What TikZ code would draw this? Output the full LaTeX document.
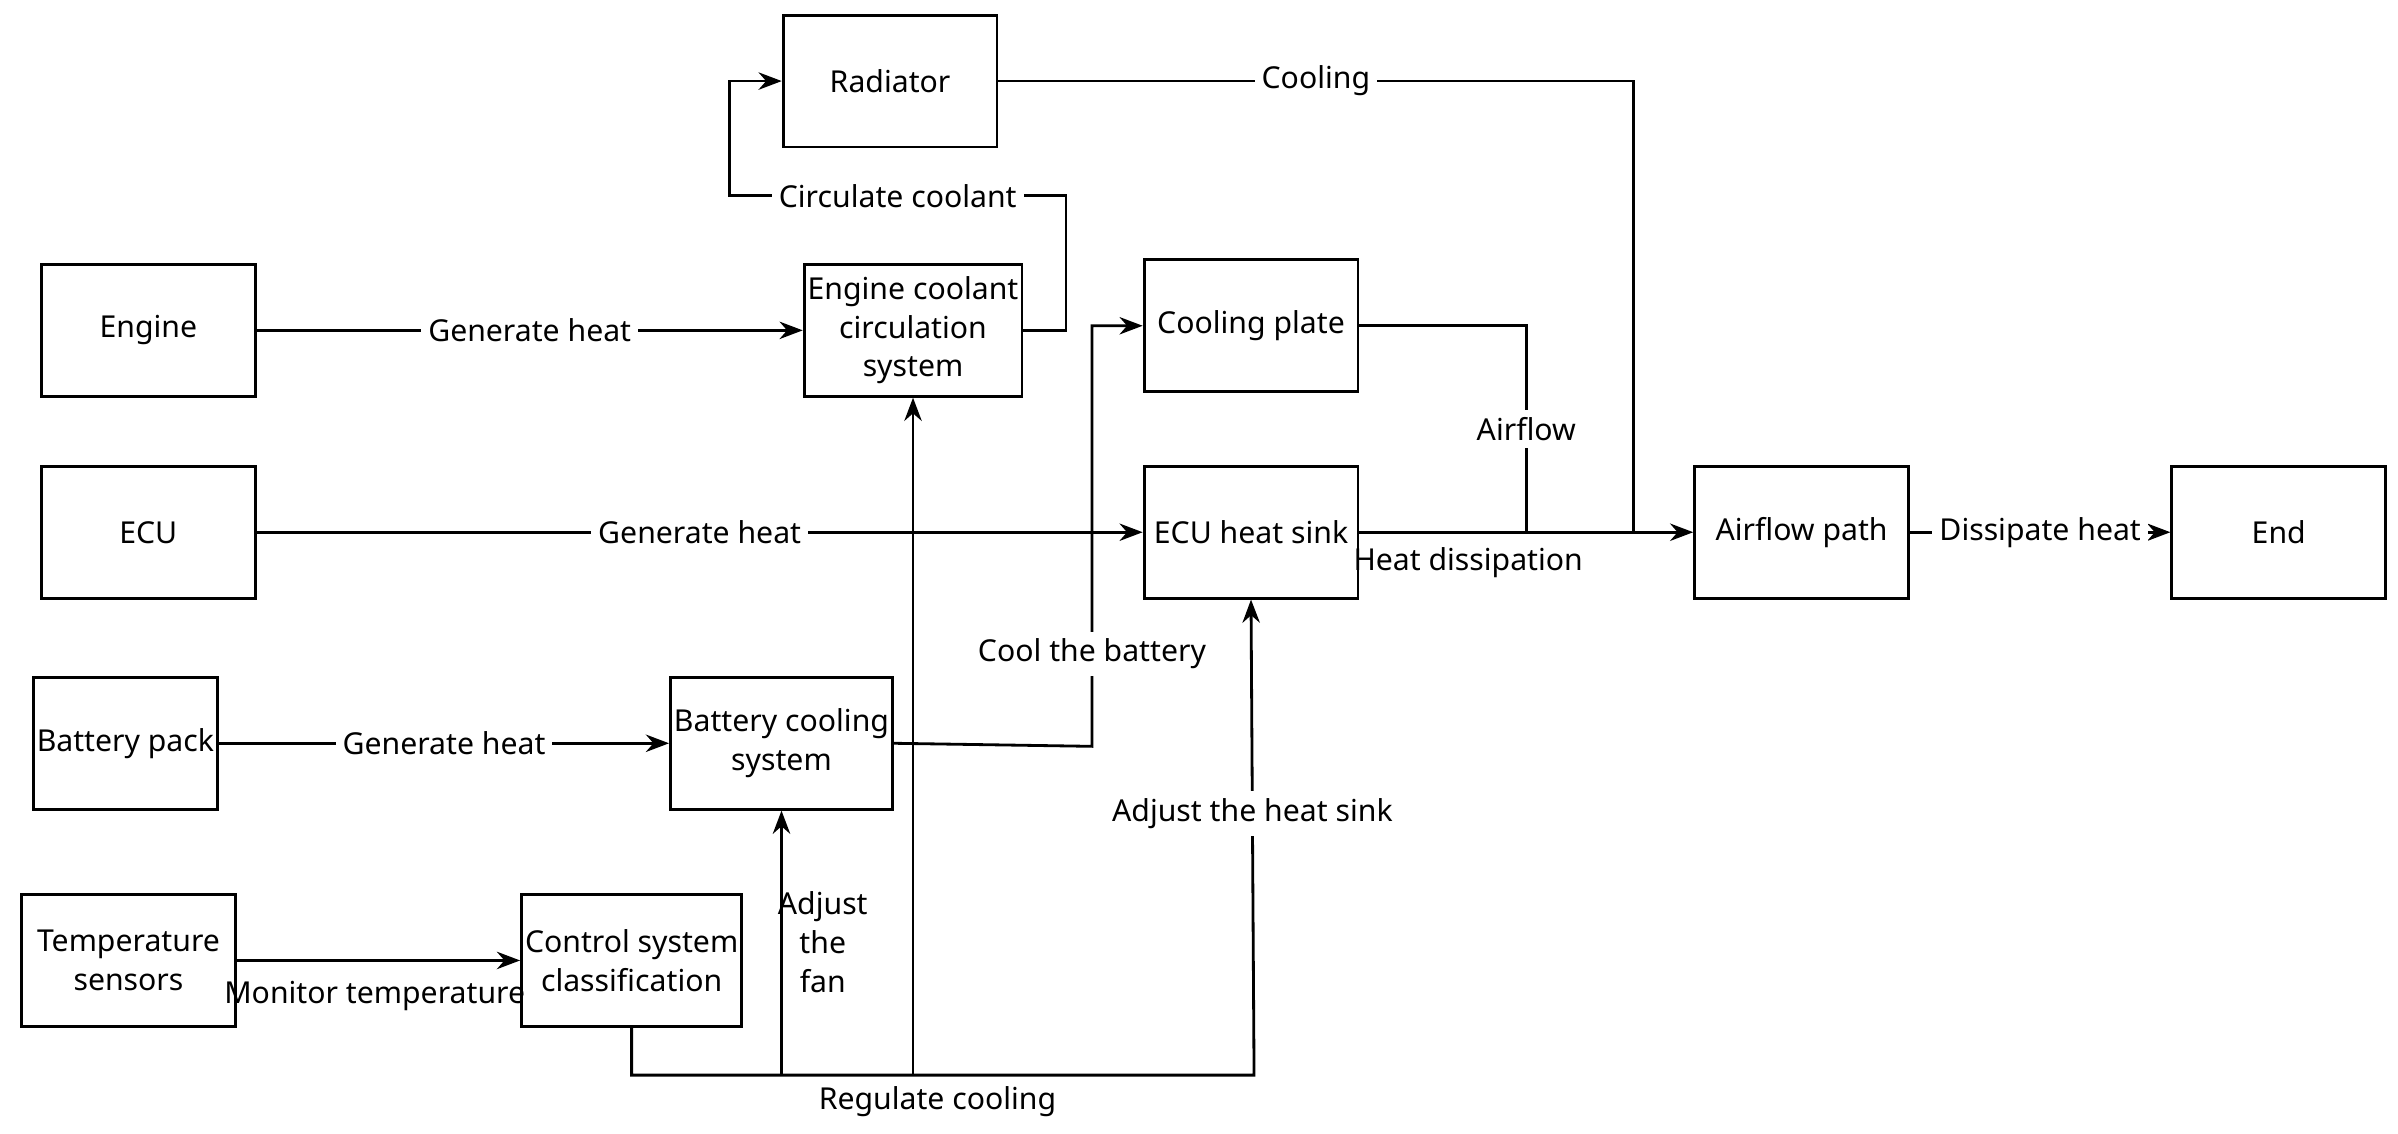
\documentclass[tikz,border=0pt]{standalone}
\usepackage{fontspec}
\setmainfont{Noto Sans}
\usetikzlibrary{arrows.meta, positioning}
\begin{document}
\begin{tikzpicture}[
        x=0.01531cm, y=-0.01531cm,
        font=\fontsize{8.6pt}{11pt}\selectfont,
        box/.style={draw, thick, rectangle, align=center, minimum width=2.14cm, minimum height=1.32cm, inner sep=1pt},
        post/.style={thick, -Stealth},
        line/.style={thick},
        lbl/.style={fill=white, inner sep=2pt, align=center},
    ]
        \useasboundingbox (0,0) rectangle (1568,741);
        \node[box] (radiator) at (582,53) {Radiator};
        \node[box] (engine) at (97,216) {Engine};
        \node[box] (coolant) at (597,216) {Engine coolant\\circulation\\system};
        \node[box] (plate) at (818,213) {Cooling plate};
        \node[box] (ecu) at (97,348) {ECU};
        \node[box] (sink) at (818,348) {ECU heat sink};
        \node[box] (airflow) at (1178,348) {Airflow path};
        \node[box] (end) at (1490,348) {End};
        \node[box, minimum width=1.68cm] (battery) at (82,486) {Battery pack};
        \node[box] (bcool) at (511,486) {Battery cooling\\system};
        \node[box] (sensors) at (84,628) {Temperature\\sensors};
        \node[box] (control) at (413,628) {Control system\\classification};
        \coordinate (join) at (1068,348);
        \coordinate (split) at (820,703);

        \draw[post] (engine) -- node[lbl] {Generate heat} (coolant);
        \draw[post] (coolant.east) -- (697,216) -- (697,128) -- node[lbl] {Circulate coolant} (477,128) |- (radiator.west);
        \draw[line] (radiator.east) -- node[lbl] {Cooling} (1068,53) -- (join);
        \draw[line] (plate.east) -- (998,213) -- node[lbl] {Airflow} (998,348);
        \draw[post] (ecu) -- node[lbl] {Generate heat} (sink);
        \draw[post] (sink) -- (airflow);
        \node (dissip) at (960,368) {Heat dissipation};
        \draw[post] (airflow) -- node[lbl] {Dissipate heat} (end);
        \draw[post] (battery) -- node[lbl] {Generate heat} (bcool);
        \draw[post] (bcool.east) -- (714,488) -- node[lbl, pos=0.22] {Cool the battery} (714,213) -- (plate.west);
        \draw[post] (sensors) -- (control);
        \node (monitor) at (245,651) {Monitor temperature};
        \draw[post] (control.south) -- (413,703) -- (split) -- node[lbl, pos=0.55] {Adjust the heat sink} (sink.south);
        \node (regulate) at (613,720) {Regulate cooling};
        \draw[post] (511,703) -- (bcool.south);
        \node[align=center] (fan) at (538,616) {Adjust\\the\\fan};
        \draw[post] (597,703) -- (coolant.south);
\end{tikzpicture}
\end{document}
